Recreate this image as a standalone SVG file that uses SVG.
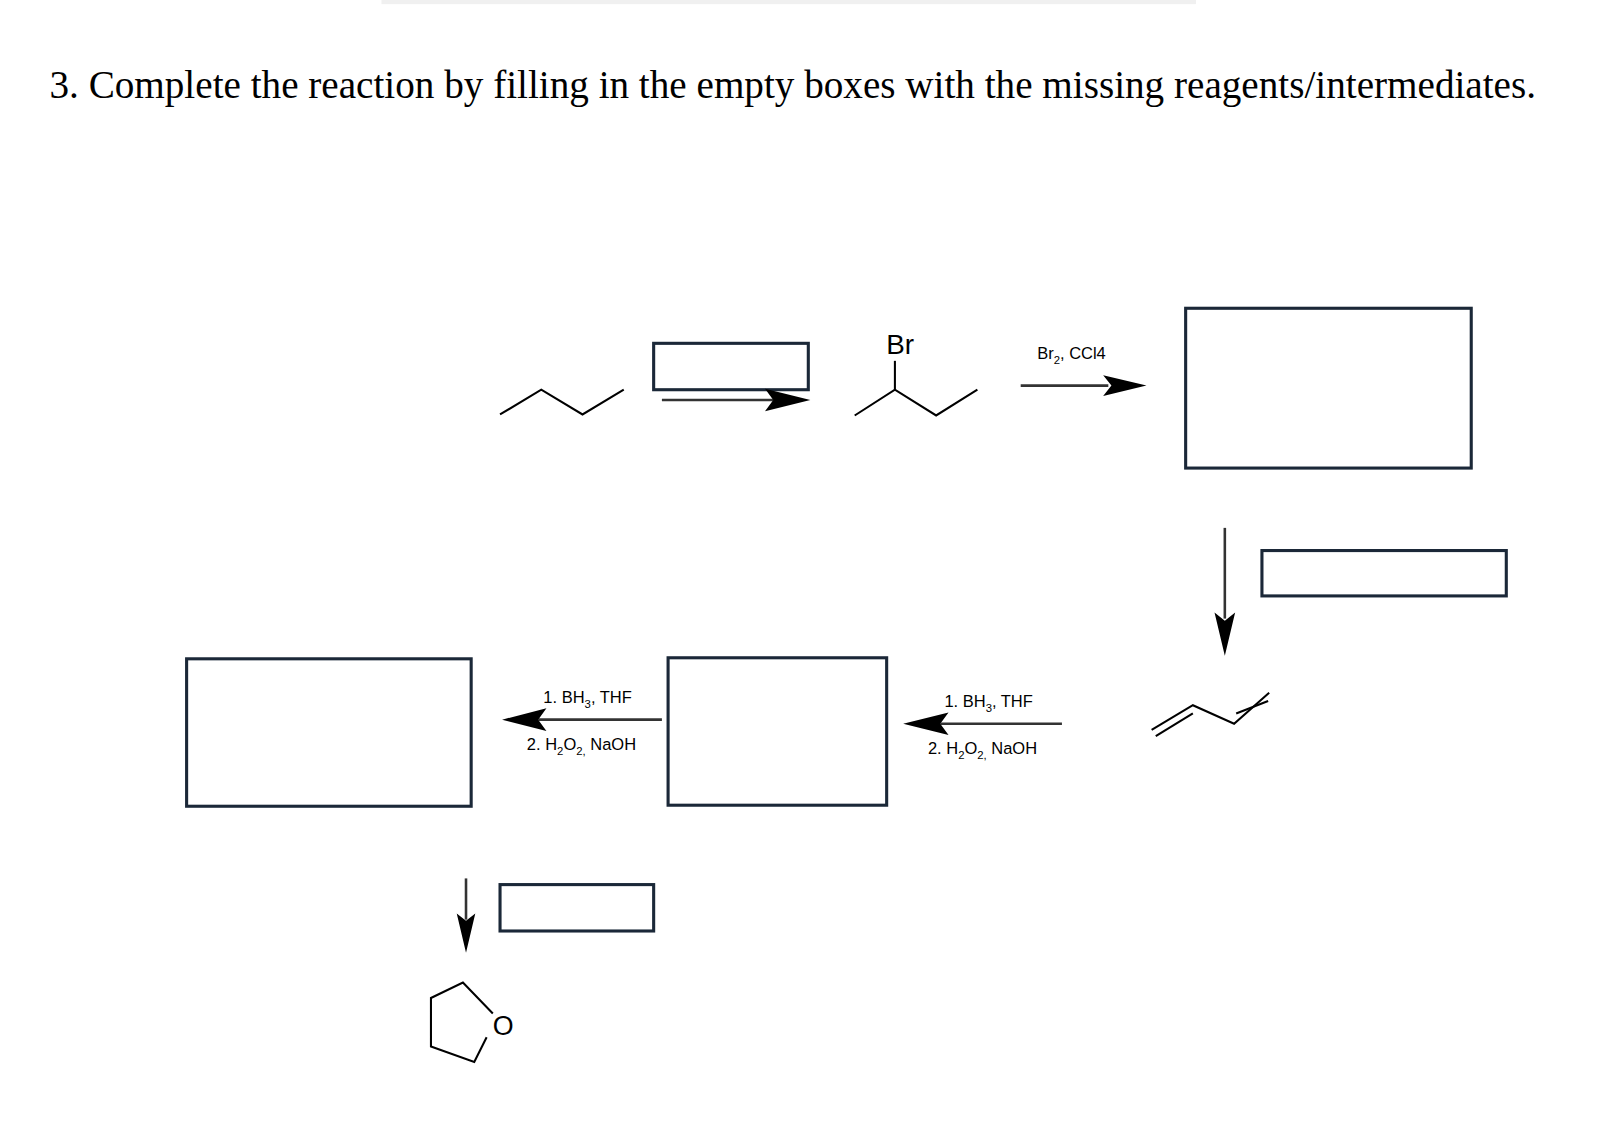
<svg xmlns="http://www.w3.org/2000/svg" width="1624" height="1130" viewBox="0 0 1624 1130">
<style>
.box{fill:none;stroke:#1b2838;stroke-width:3}
.bond{fill:none;stroke:#000;stroke-width:2}
.ln{stroke:#333;stroke-width:2.5}
.lbl{font-family:"Liberation Sans",Arial,sans-serif;font-size:16px;fill:#000}
.head{fill:#000}
</style>
<rect width="1624" height="1130" fill="#fff"/>
<g transform="scale(1.031)">
<rect x="370" y="0" width="790" height="4" fill="#f0f0f0"/>
<text x="48" y="95" font-family="Liberation Serif,'Times New Roman',serif" font-size="38">3.  Complete the reaction by filling in the empty boxes with the missing reagents/intermediates.</text>
<g id="butane"><polyline class="bond" points="485,402 525,378 565,402 605,378"/></g>
<g id="box1"><rect class="box" x="634" y="333" width="150" height="45"/></g>
<g id="bromobutane"><polyline class="bond" points="829,403 868,378 908,403 948,378"/><line class="bond" x1="868" y1="378" x2="868" y2="350"/><text x="873" y="343" text-anchor="middle" font-family="Liberation Sans,Arial,sans-serif" font-size="27">Br</text></g>
<g id="box2"><rect class="box" x="1150" y="299" width="277" height="155"/></g>
<g id="box3"><rect class="box" x="1224" y="534" width="237" height="44"/></g>
<g id="butadiene"><polyline class="bond" points="1117,708 1157,684 1197,702 1231,672"/><line class="bond" x1="1121" y1="714" x2="1157" y2="692"/><line class="bond" x1="1199" y1="692" x2="1230" y2="680"/></g>
<g id="box4"><rect class="box" x="648" y="638" width="212" height="143"/></g>
<g id="box5"><rect class="box" x="181" y="639" width="276" height="143"/></g>
<g id="box6"><rect class="box" x="485" y="858" width="149" height="45"/></g>
<g id="thf"><polyline class="bond" points="478,983 449,953 418,968 418,1015 460,1030 472,1006"/><text x="488" y="1004" text-anchor="middle" font-family="Liberation Sans,Arial,sans-serif" font-size="26">O</text></g>
<g id="connectors">
<line class="ln" x1="642" y1="388" x2="750" y2="388"/><path class="head" d="M786,388 L742,377 L750,388 L742,399Z"/>
<line class="ln" x1="990" y1="374" x2="1075" y2="374"/><path class="head" d="M1112,374 L1070,364 L1078,374 L1070,384Z"/>
<line class="ln" x1="1188" y1="512" x2="1188" y2="600"/><path class="head" d="M1188,636 L1178,594 L1188,602 L1198,594Z"/>
<line class="ln" x1="1030" y1="702" x2="912" y2="702"/><path class="head" d="M876,702 L920,691 L912,702 L920,713Z"/>
<line class="ln" x1="642" y1="698" x2="522" y2="698"/><path class="head" d="M487,698 L530,687 L522,698 L530,709Z"/>
<line class="ln" x1="452" y1="852" x2="452" y2="892"/><path class="head" d="M452,924 L443,886 L452,893 L461,886Z"/>
</g>
<text class="lbl" x="1006" y="348">Br<tspan font-size="11" dy="5">2</tspan><tspan dy="-5">, CCl4</tspan></text>
<text class="lbl" x="916" y="686">1. BH<tspan font-size="11" dy="5">3</tspan><tspan dy="-5">, THF</tspan></text>
<text class="lbl" x="900" y="731">2. H<tspan font-size="11" dy="5">2</tspan><tspan dy="-5">O</tspan><tspan font-size="11" dy="5">2,</tspan><tspan dy="-5"> NaOH</tspan></text>
<text class="lbl" x="527" y="682">1. BH<tspan font-size="11" dy="5">3</tspan><tspan dy="-5">, THF</tspan></text>
<text class="lbl" x="511" y="727">2. H<tspan font-size="11" dy="5">2</tspan><tspan dy="-5">O</tspan><tspan font-size="11" dy="5">2,</tspan><tspan dy="-5"> NaOH</tspan></text>
</g>
</svg>
